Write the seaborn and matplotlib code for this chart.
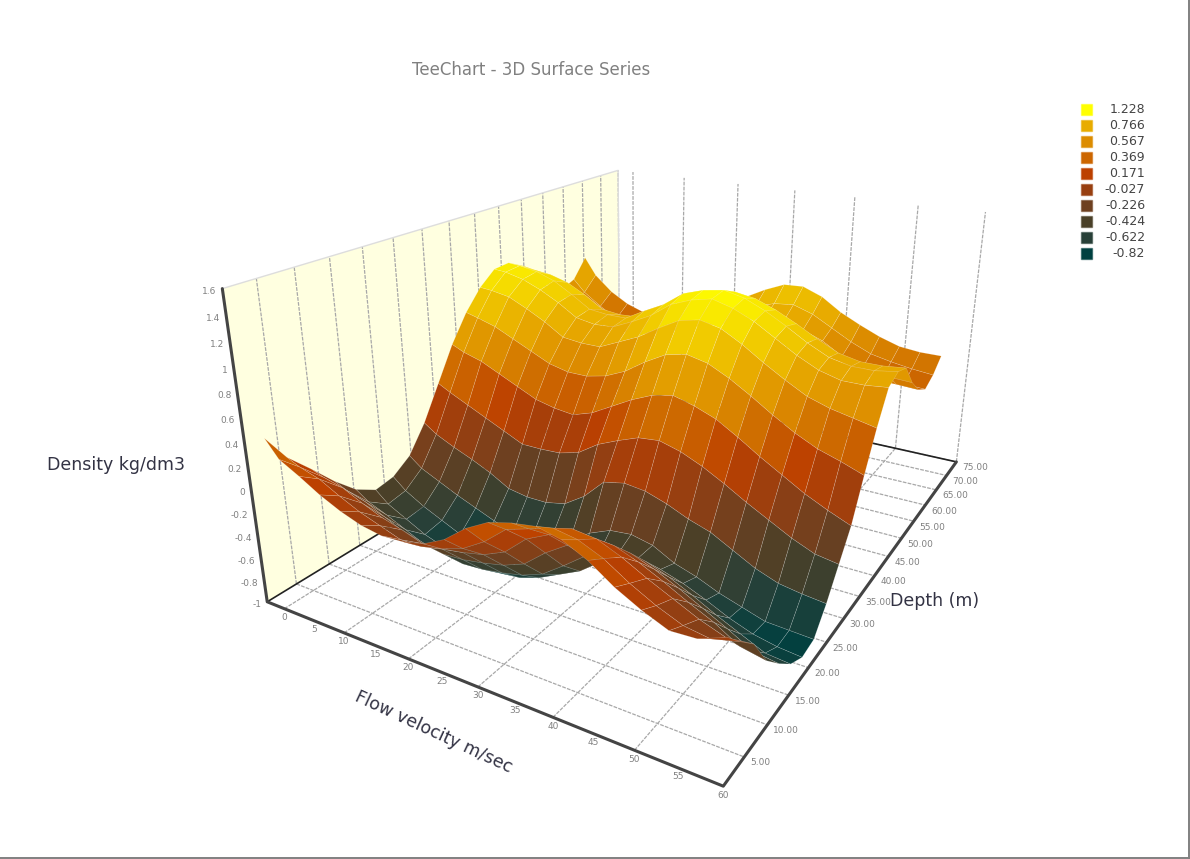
# -*- coding: utf-8 -*-
"""
TeeChart style 3D surface, density over flow velocity and depth
"""
import numpy as np
import matplotlib as mpl
import matplotlib.pyplot as plt
from matplotlib.lines import Line2D
from matplotlib.patches import Rectangle
from matplotlib.transforms import offset_copy
from mpl_toolkits.mplot3d import proj3d
from mpl_toolkits.mplot3d.art3d import Poly3DCollection
import seaborn as sns

###############################################################################
# Values
flow_velocity = [1, 3, 6, 9, 12, 15, 18, 21, 24, 27, 30, 33, 36, 39, 42, 45, 48, 51, 54, 57, 60]
depth = [0.5, 3, 6, 9, 12, 15, 18, 21, 24, 27, 30, 33, 36, 39, 42, 45, 48, 51, 54, 57, 60]
# one row per flow velocity, one column per depth
density = [
    [.50, .27, .08, -.12, -.29, -.39, -.36, -.25, -.02, .28, .58, .82, 1.00, 1.12, 1.13, 1.05, .90, .74, .65, .70, .88],
    [.36, .22, .04, -.17, -.37, -.49, -.46, -.34, -.10, .22, .53, .79, .99, 1.11, 1.12, 1.03, .86, .67, .54, .58, .71],
    [.27, .17, .00, -.22, -.44, -.58, -.56, -.42, -.18, .14, .48, .74, .96, 1.07, 1.09, 1.01, .83, .60, .44, .46, .56],
    [.17, .08, -.08, -.30, -.52, -.67, -.64, -.50, -.25, .06, .40, .66, .88, 1.00, 1.03, .96, .78, .52, .35, .36, .46],
    [.09, .00, -.15, -.38, -.60, -.73, -.72, -.57, -.33, -.02, .32, .58, .79, .91, .93, .87, .71, .48, .32, .32, .40],
    [.03, -.06, -.20, -.42, -.62, -.76, -.77, -.64, -.43, -.10, .24, .50, .68, .80, .82, .76, .62, .44, .32, .31, .36],
    [.00, -.12, -.26, -.46, -.66, -.80, -.82, -.70, -.46, -.10, .20, .46, .66, .77, .80, .74, .61, .46, .37, .38, .43],
    [.01, -.12, -.25, -.45, -.65, -.80, -.82, -.70, -.46, -.09, .18, .46, .66, .78, .80, .75, .64, .50, .42, .44, .50],
    [.05, -.08, -.22, -.42, -.62, -.78, -.80, -.66, -.42, -.04, .24, .50, .74, .86, .90, .85, .71, .56, .50, .52, .58],
    [.14, -.02, -.18, -.38, -.58, -.72, -.74, -.60, -.30, .08, .34, .58, .82, .95, .99, .95, .80, .63, .55, .58, .66],
    [.28, .09, -.10, -.31, -.51, -.63, -.64, -.48, -.12, .16, .44, .70, .93, 1.08, 1.12, 1.05, .88, .70, .60, .64, .75],
    [.38, .24, .06, -.16, -.38, -.54, -.56, -.40, -.08, .23, .52, .80, 1.03, 1.15, 1.18, 1.11, .94, .76, .67, .74, .85],
    [.43, .30, .15, -.04, -.24, -.40, -.46, -.38, -.10, .25, .56, .84, 1.07, 1.19, 1.21, 1.14, .97, .80, .72, .80, .93],
    [.46, .36, .25, .08, -.10, -.28, -.42, -.42, -.16, .20, .51, .80, 1.03, 1.14, 1.17, 1.11, .95, .78, .72, .82, .94],
    [.42, .33, .23, .07, -.10, -.28, -.46, -.52, -.24, .12, .44, .71, .93, 1.06, 1.09, 1.04, .88, .73, .67, .76, .87],
    [.33, .25, .15, .00, -.17, -.35, -.52, -.58, -.30, .02, .33, .60, .81, .95, .99, .95, .80, .65, .60, .66, .75],
    [.20, .13, .05, -.09, -.26, -.44, -.60, -.66, -.40, -.09, .21, .48, .70, .84, .88, .85, .70, .55, .49, .56, .66],
    [.10, .03, -.04, -.19, -.36, -.54, -.69, -.72, -.50, -.19, .10, .37, .60, .75, .79, .76, .62, .47, .41, .48, .58],
    [.02, -.05, -.13, -.28, -.46, -.63, -.76, -.78, -.57, -.29, -.01, .28, .54, .70, .75, .72, .58, .42, .36, .44, .52],
    [.03, -.08, -.20, -.40, -.57, -.72, -.80, -.79, -.60, -.37, -.10, .22, .50, .70, .75, .72, .55, .41, .34, .41, .50],
    [.11, -.03, -.18, -.44, -.60, -.74, -.82, -.80, -.62, -.40, -.18, .15, .46, .72, .78, .74, .54, .40, .33, .39, .50],
]

legend_levels = [1.228, 0.766, 0.567, 0.369, 0.171, -0.027, -0.226, -0.424, -0.622, -0.82]
legend_colors = ["#FFFF00", "#E8AC00", "#DC8C00", "#CC6600", "#BC4000",
                 "#983F10", "#6E4020", "#4A4028", "#284038", "#004040"]

x_ticks = list(range(0, 65, 5))
depth_ticks = list(range(5, 80, 5))
z_ticks = [-1, -0.8, -0.6, -0.4, -0.2, 0, 0.2, 0.4, 0.6, 0.8, 1, 1.2, 1.4, 1.6]
z_tick_labels = ["-1", "-0.8", "-0.6", "-0.4", "-0.2", "0", "0.2", "0.4",
                 "0.6", "0.8", "1", "1.2", "1.4", "1.6"]

###############################################################################
sns.set_theme(style="white")
plt.rcParams["font.family"] = "DejaVu Sans"

W, H = 1190, 859
fig = plt.figure(figsize=(W / 100, H / 100), dpi=100)
ax = fig.add_axes([0, 0, 1, 1], projection="3d")
ax.set_axis_off()
ax.computed_zorder = False
ax.apply_aspect()

x0, x1 = -3, 60
d0, d1 = 0.8, 75
z0, z1 = -1, 1.6

# Fit the camera to where the box corners sit in the picture
box_points = [
    (x0, d0, z0, 268, 605), (x1, d0, z0, 722, 782), (x1, d1, z0, 958, 465),
    (x0, d1, z0, 617, 381), (x0, d0, z1, 220, 284), (x0, d1, z1, 620, 175),
    (x1, d1, z1, 985, 210), (0, d0, z0, 287, 612), (30, d0, z0, 478, 687),
    (x1, 30, z0, 843, 620),
]
to_axes = ax.transData.inverted()
rows, rhs = [], []
for bx, by, bz, px, py in box_points:
    u, v = to_axes.transform((px, H - py))
    rows.append([bx, by, bz, 1, 0, 0, 0, 0, -u * bx, -u * by, -u * bz])
    rows.append([0, 0, 0, 0, bx, by, bz, 1, -v * bx, -v * by, -v * bz])
    rhs += [u, v]
p = np.linalg.lstsq(np.array(rows, float), np.array(rhs, float), rcond=None)[0]
cam = np.array([p[:4], p[4:8], [0, 0, 0, -1], [p[8], p[9], p[10], 1.0]])
ax.get_proj = lambda: cam

###############################################################################
# Walls and grid
wall = Poly3DCollection([[(x0, d0, z0), (x0, d1, z0), (x0, d1, z1), (x0, d0, z1)]],
                        facecolor="#FFFFE0", edgecolor="none", zorder=1)
ax.add_collection3d(wall)

grid_kw = dict(color="#a8a8a8", lw=0.9, ls=(0, (3, 1)), zorder=2)
for t in depth_ticks:
    ax.plot([x0, x1], [t, t], [z0, z0], **grid_kw)
    ax.plot([x0, x0], [t, t], [z0, z1], **grid_kw)
for t in x_ticks[::2]:
    ax.plot([t, t], [d0, d1], [z0, z0], **grid_kw)
    ax.plot([t, t], [d1, d1], [z0, z1], **grid_kw)

ax.plot([x0, x0, x1], [d0, d1, d1], [z0, z0, z0], color="#222222", lw=1.2, zorder=3)
ax.plot([x0, x0, x0], [d0, d1, d1], [z1, z1, z0], color="#dddddd", lw=1, zorder=3)
ax.plot([x0, x0, x1, x1], [d0, d0, d0, d1], [z1, z0, z0, z0],
        color="#444444", lw=2.2, zorder=3)

###############################################################################
# Surface
X, Y = np.meshgrid(flow_velocity, depth, indexing="ij")
Z = np.array(density)
norm = mpl.colors.Normalize(min(legend_levels), max(legend_levels))
stops = sorted(zip(norm(legend_levels).tolist(), legend_colors))
tee_cmap = mpl.colors.LinearSegmentedColormap.from_list("tee", stops)
ax.plot_surface(X, Y, Z, rstride=1, cstride=1, cmap=tee_cmap, norm=norm,
                edgecolor=(1, 1, 1, 0.25), linewidth=0.4, antialiased=True,
                shade=False, zorder=5)

###############################################################################
# Tick labels, placed where the camera puts the axis points
def tick_text(tx, ty, tz, label, dx, dy, ha):
    u, v, _ = proj3d.proj_transform(tx, ty, tz, cam)
    trans = offset_copy(ax.transData, fig=fig, x=dx, y=dy, units="dots")
    ax.text2D(u, v, label, transform=trans, ha=ha, va="center",
              color="#808080", fontsize=6.5, zorder=6)

for t in x_ticks:
    tick_text(t, d0, z0, str(t), 0, -9, "center")
for t in depth_ticks:
    tick_text(x1, t, z0, f"{t:.2f}", 6, -6, "left")
for t, lab in zip(z_ticks, z_tick_labels):
    tick_text(x0, d0, t, lab, -6, -3, "right")

# Titles
def fx(px):
    return px / W
def fy(py):
    return 1 - py / H

fig.text(fx(531), fy(70), "TeeChart - 3D Surface Series", color="#808080",
         fontsize=12, ha="center", va="center")
fig.text(fx(116), fy(465), "Density kg/dm3", color="#333344", fontsize=12.5,
         ha="center", va="center")
fig.text(fx(935), fy(601), "Depth (m)", color="#333344", fontsize=12.5,
         ha="center", va="center")
fig.text(fx(434), fy(732), "Flow velocity m/sec", color="#333344", fontsize=12.5,
         ha="center", va="center", rotation=-25, rotation_mode="anchor")

# Legend, labels right aligned
for i, (level, col) in enumerate(zip(legend_levels, legend_colors)):
    fig.add_artist(Rectangle((fx(1081), fy(115 + 16 * i)), 11 / W, 11 / H,
                             transform=fig.transFigure, facecolor=col,
                             edgecolor=mpl.colors.to_rgba(col, 0.5), lw=1))
    fig.text(fx(1145), fy(109.5 + 16 * i), str(level), color="#444444", fontsize=9,
             ha="right", va="center")

# Outer frame, right and bottom
fig.add_artist(Line2D([0, 1], [fy(857.5), fy(857.5)], color="#808080", lw=1.4))
fig.add_artist(Line2D([fx(1189), fx(1189)], [fy(857.5), 1], color="#808080", lw=1.4))

fig.savefig("out.png", dpi=100, facecolor="white")
